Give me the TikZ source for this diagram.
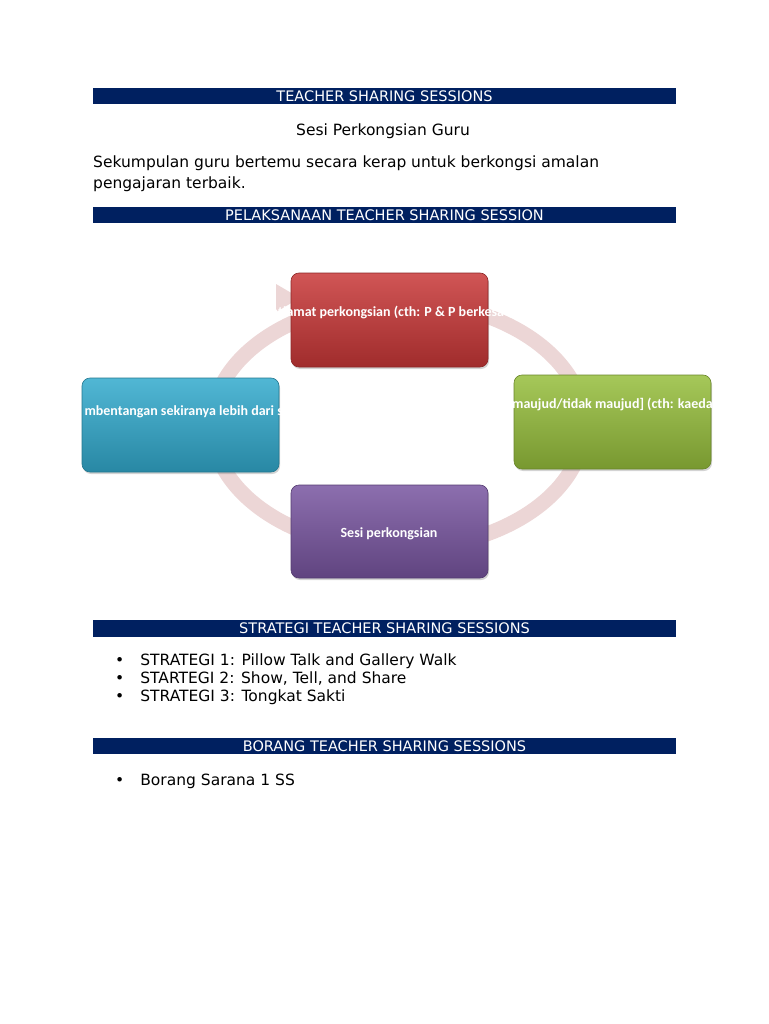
\documentclass[tikz,border=0pt]{standalone}
\usepackage{fontspec}
\setmainfont{DejaVu Sans}
\newfontfamily\carlitofont{Carlito}
\usetikzlibrary{arrows.meta,shadows}
\definecolor{navy}{RGB}{0,32,96}
\definecolor{ring}{RGB}{236,214,214}
\definecolor{cred}{RGB}{200,55,55}
\definecolor{cgreen}{RGB}{150,190,60}
\definecolor{cblue}{RGB}{50,170,205}
\definecolor{cpurp}{RGB}{120,85,160}
\tikzset{
 bar/.style={fill=navy,draw=none},
 bartext/.style={text=white,font=\fontsize{14.5}{16}\selectfont,anchor=center,inner sep=0},
 body/.style={anchor=west,font=\fontsize{15.5}{18}\selectfont,inner sep=0},
 box/.style={rounded corners=8pt,draw=#1!70!black,line width=0.6pt,top color=#1!85!white,bottom color=#1!80!black,drop shadow={opacity=0.35,shadow xshift=1pt,shadow yshift=-2pt}},
 btext/.style={text=white,font=\carlitofont\bfseries\fontsize{14}{16}\selectfont,inner sep=0},
}
\begin{document}
\begin{tikzpicture}[x=1pt,y=-1pt]
\useasboundingbox (0,0) rectangle (768,1024);
\fill[bar] (93,88) rectangle (676,104);
\node[bartext] (t1) at (384.5,96) {TEACHER SHARING SESSIONS};
\node[font=\fontsize{15.5}{18}\selectfont] (sub) at (383,131) {Sesi Perkongsian Guru};
\node[body] (p1) at (93,163) {Sekumpulan guru bertemu secara kerap untuk berkongsi amalan};
\node[body] (p2) at (93,184) {pengajaran terbaik.};
\fill[bar] (93,207) rectangle (676,223);
\node[bartext] (t2) at (384.5,215) {PELAKSANAAN TEACHER SHARING SESSION};
% ring
\draw[ring,line width=15pt] (398,425) ellipse [x radius=186, y radius=124];
\fill[ring] (300,298) -- (276,284) -- (276,312) -- cycle;
% boxes
\path[box=cred] (291,273) rectangle (488,367);
\path[box=cgreen] (514,375) rectangle (711,469);
\path[box=cblue] (82,378) rectangle (279,472);
\path[box=cpurp] (291,485) rectangle (488,578);
\node[btext,anchor=west] (r) at (259,312) {Matlamat perkongsian (cth: P \& P berkesa};
\node[btext,anchor=east] (g) at (713,404) {[maujud/tidak maujud] (cth: kaeda};
\node[btext,anchor=east] (b) at (283,412) {mbentangan sekiranya lebih dari s};
\node[btext] (pu) at (389,534) {Sesi perkongsian};
\fill[bar] (93,620) rectangle (676,637);
\node[bartext] (t3) at (384.5,628) {STRATEGI TEACHER SHARING SESSIONS};
\foreach \y/\t [count=\i] in {661/STRATEGI 1: Pillow Talk and Gallery Walk,679/{STARTEGI 2: Show, Tell, and Share},697/STRATEGI 3: Tongkat Sakti}{
 \node[body] (s\i) at (115,\y) {\textbullet\hspace{16pt}\t};}
\fill[bar] (93,738) rectangle (676,754);
\node[bartext] (t4) at (384.5,746) {BORANG TEACHER SHARING SESSIONS};
\node[body] (f1) at (115,781) {\textbullet\hspace{16pt}Borang Sarana 1 SS};
\end{tikzpicture}
\end{document}
